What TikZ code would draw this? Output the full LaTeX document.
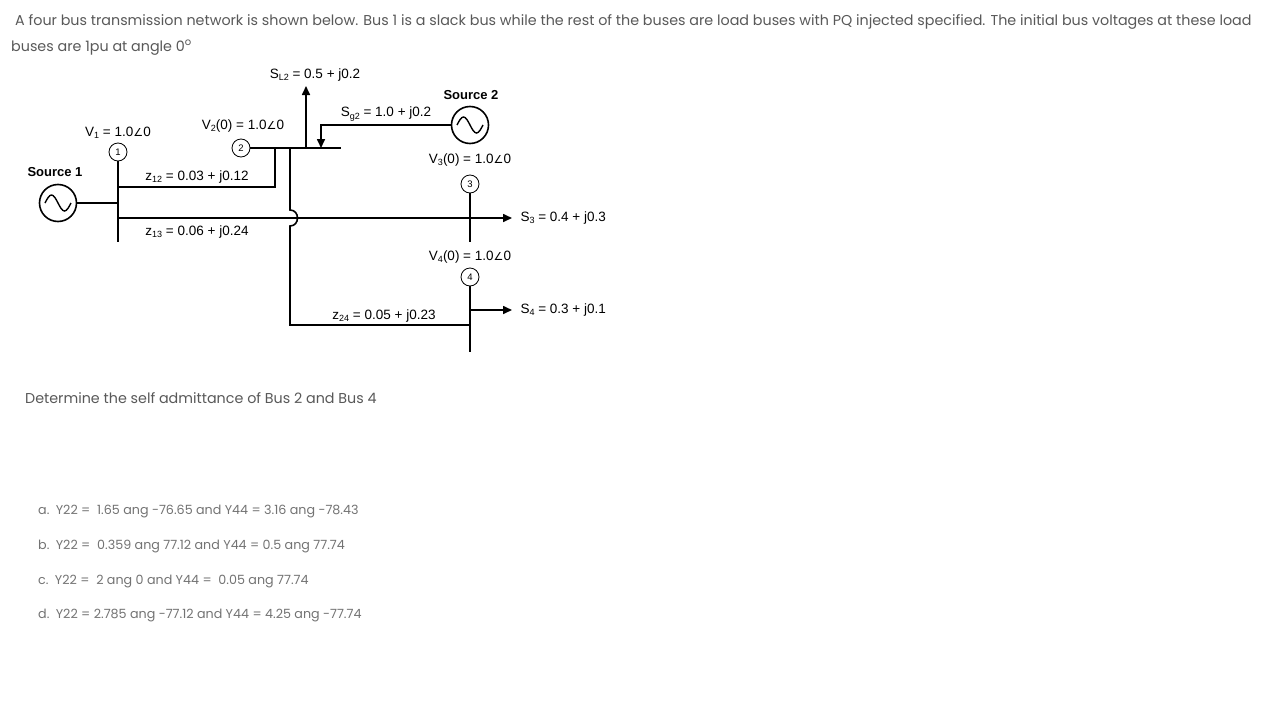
\documentclass[tikz,border=0pt]{standalone}
\usepackage{fontspec}
\setmainfont{Liberation Sans}
\newfontfamily\qf{Poppins}
\newfontfamily\dv{DejaVu Sans}
\usetikzlibrary{arrows.meta}
\newcommand{\ang}{{\dv\fontsize{11}{11}\selectfont ∠}}
\newcommand{\lsb}[1]{\raisebox{-2.5pt}{\fontsize{9}{9}\selectfont #1}}
\begin{document}
\begin{tikzpicture}[x={(1pt,0)},y={(0,-1pt)},
  ln/.style={line width=1.6pt},
  arr/.style={ln,-{Triangle[length=9pt,width=8pt]}},
  lbl/.style={font=\fontsize{13.5}{15}\selectfont},
  bl/.style={font=\bfseries\fontsize{13}{15}\selectfont},
  busc/.style={circle,draw,line width=0.8pt,minimum size=18pt,inner sep=0pt,font=\fontsize{9.5}{9.5}\selectfont},
  src/.style={circle,draw,line width=1.6pt,minimum size=37pt,inner sep=0pt},
  q/.style={font=\qf\fontsize{14.3}{16}\selectfont,text=black!65,anchor=west,inner sep=0pt},
  opt/.style={q,font=\qf\fontsize{12.7}{15}\selectfont,text=black!55}]
\useasboundingbox[fill=white] (0,0) rectangle (1266,704);
\node[q] (t1) at (15,22) {A four bus transmission network is shown below. Bus 1 is a slack bus while the rest of the buses are load buses with PQ injected specified. The initial bus voltages at these load};
\node[q] (t2) at (11,48) {buses are 1pu at angle 0\raisebox{6pt}{\fontsize{10}{10}\selectfont o}};
% sources
\node[src] (s1) at (58,203) {};
\draw[line width=1.4pt] (45,203) sin (51.5,195) cos (58,203) sin (64.5,211) cos (71,203);
\node[src] (s2) at (470,125) {};
\draw[line width=1.4pt] (457,125) sin (463.5,117) cos (470,125) sin (476.5,133) cos (483,125);
\node[bl] (s1l) at (55,172) {Source 1};
\node[bl] (s2l) at (471,95) {Source 2};
% bus circles
\node[busc] (b1) at (118,152) {1};
\node[busc] (b2) at (241,148) {2};
\node[busc] (b3) at (470,184) {3};
\node[busc] (b4) at (470,277) {4};
% bus bars
\coordinate (b1e) at (118,242);
\draw[ln] (b1.south) -- (b1e);
\draw[ln] (s1.east) -- (118,203);
\draw[ln] (b2.east) -- (341,148);
\draw[ln] (b3.south) -- (470,242);
\draw[ln] (b4.south) -- (470,352);
% lines
\draw[ln] (118,187) -- (275,187) -- (275,148);
\coordinate (s3e) at (512,218);
\draw[arr] (118,218) -- (s3e);
\draw[ln] (290,148) -- (290,210) .. controls (300,210) and (300,226) .. (290,226) -- (290,325) -- (470,325);
\coordinate (sl2) at (306,86);
\draw[arr] (306,148) -- (sl2);
\coordinate (sg2) at (321,148);
\draw[arr] (s2.west) -- (321,125) -- (sg2);
\coordinate (s4e) at (512,310);
\draw[arr] (470,310) -- (s4e);
% labels
\node[lbl] (v1) at (118,133) {V\lsb{1} = 1.0\ang0};
\node[lbl] (v2) at (243,126) {V\lsb{2}(0) = 1.0\ang0};
\node[lbl] (v3) at (470,160) {V\lsb{3}(0) = 1.0\ang0};
\node[lbl] (v4) at (470,257) {V\lsb{4}(0) = 1.0\ang0};
\node[lbl] (z12) at (197,177) {z\lsb{12} = 0.03 + j0.12};
\node[lbl] (z13) at (197,232) {z\lsb{13} = 0.06 + j0.24};
\node[lbl] (z24) at (384,316) {z\lsb{24} = 0.05 + j0.23};
\node[lbl] (sl2l) at (315,75) {S\lsb{L2} = 0.5 + j0.2};
\node[lbl] (sg2l) at (386,114) {S\lsb{g2} = 1.0 + j0.2};
\node[lbl,anchor=west] (s3l) at (517,218) {S\lsb{3} = 0.4 + j0.3};
\node[lbl,anchor=west] (s4l) at (517,310) {S\lsb{4} = 0.3 + j0.1};
% question
\node[q] (qd) at (25,398) {Determine the self admittance of Bus 2 and Bus 4};
\node[opt] (oa) at (38,512) {a.\enspace Y22 = \ 1.65 ang -76.65 and Y44 = 3.16 ang -78.43};
\node[opt] (ob) at (38,547) {b.\enspace Y22 = \ 0.359 ang 77.12 and Y44 = 0.5 ang 77.74};
\node[opt] (oc) at (38,582) {c.\enspace Y22 = \ 2 ang 0 and Y44 = \ 0.05 ang 77.74};
\node[opt] (od) at (38,616) {d.\enspace Y22 = 2.785 ang -77.12 and Y44 = 4.25 ang -77.74};
\end{tikzpicture}
\end{document}
